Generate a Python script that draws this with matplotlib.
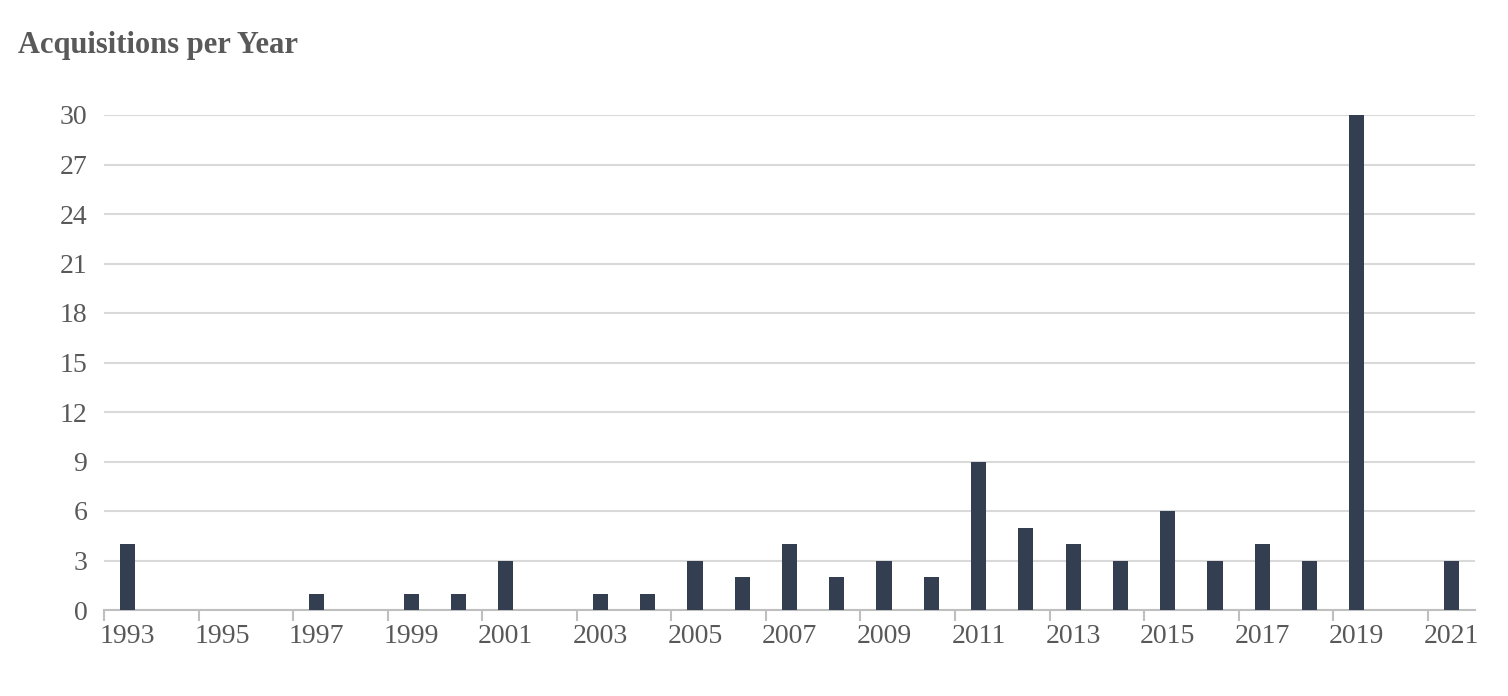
import matplotlib.pyplot as plt
import numpy as np

years = list(range(1993, 2022))
counts = [4, 0, 0, 0, 1, 0, 1, 1, 3, 0, 1, 1, 3, 2, 4, 2, 3, 2, 9, 5, 4, 3, 6, 3, 4, 3, 30, 0, 3]
tick_labels = [str(y) for y in years[::2]]

plt.rcParams['font.family'] = ['Liberation Serif', 'DejaVu Serif']
grey = '#595959'

fig = plt.figure(figsize=(15.08, 6.96), dpi=100)
ax = fig.add_axes([104 / 1508, 86 / 696, (1475 - 104) / 1508, 495 / 696])

x = np.arange(len(years))
ax.bar(x, counts, width=0.32, color='#333f50', zorder=3)

ax.set_xlim(-0.5, len(years) - 0.5)
ax.set_ylim(0, 30)
ax.set_yticks(range(0, 31, 3))
ax.yaxis.grid(True, color='#d9d9d9', linewidth=1.5, zorder=0)
ax.tick_params(axis='y', length=0, labelsize=20, labelcolor=grey, pad=12)

ax.set_xticks(x[::2])
ax.set_xticklabels(tick_labels, fontsize=20, color=grey)
ax.tick_params(axis='x', length=0, pad=10)
ax.set_xticks(np.arange(-0.5, len(years), 2), minor=True)
ax.tick_params(axis='x', which='minor', length=8, color='#bfbfbf', width=1.5)

for s in ['top', 'right', 'left']:
    ax.spines[s].set_visible(False)
ax.spines['bottom'].set_color('#bfbfbf')
ax.spines['bottom'].set_linewidth(1.5)

fig.text(18 / 1508, 1 - 45 / 696, 'Acquisitions per Year', fontsize=22,
         fontweight='bold', color=grey, va='center')

fig.savefig('out.png')
